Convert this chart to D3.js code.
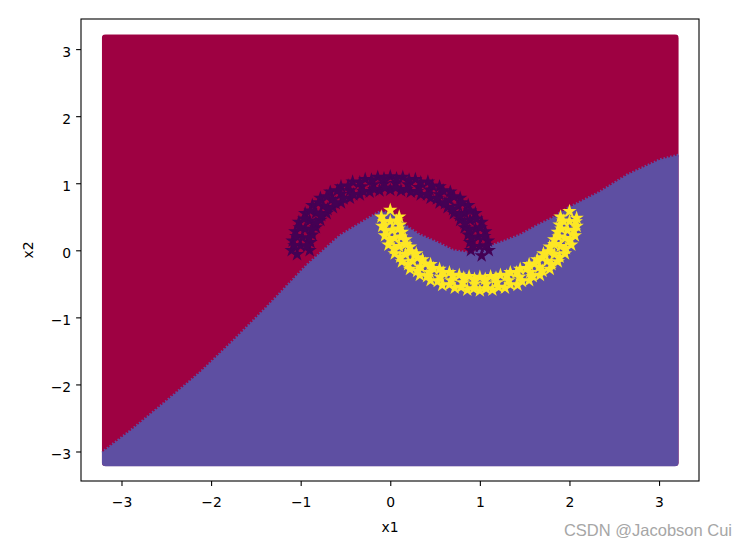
<!DOCTYPE html>
<html>
<head>
<meta charset="utf-8">
<script src="https://cdn.jsdelivr.net/npm/d3@7"></script>
<style>
  html, body { margin: 0; padding: 0; background: #fff; }
  svg { display: block; }
</style>
</head>
<body>
<svg id="chart" width="746" height="545"></svg>
<script>
// ---------------- data ----------------
const xTicks = [-3, -2, -1, 0, 1, 2, 3];
const yTicks = [-3, -2, -1, 0, 1, 2, 3];

// extent of the predicted grid (edge of the filled area)
const gridX = [-3.22, 3.22];
const gridY = [-3.22, 3.22];

// decision boundary (x1, x2): class 1 (purple) below, class 0 (red) above
const boundary = [
  [-3.22, -3.02], [-2.87, -2.66], [-2.49, -2.24], [-2.12, -1.82],
  [-1.76, -1.36], [-1.38, -0.85], [-0.93, -0.22], [-0.56, 0.22],
  [-0.19, 0.52], [-0.12, 0.57], [0.02, 0.56],
  [0.19, 0.35], [0.33, 0.23], [0.52, 0.12], [0.70, 0.00],
  [0.89, -0.04], [1.08, 0.05], [1.26, 0.13], [1.45, 0.23],
  [1.64, 0.37], [1.82, 0.49], [1.97, 0.62], [2.12, 0.72],
  [2.34, 0.87], [2.64, 1.12], [3.01, 1.35], [3.22, 1.42]
];

// moon of class 0 (dark purple stars)
const moon0 = [
  [0.90, 0.00], [1.10, 0.00], [1.02, -0.08], [0.89, 0.12], [1.09, 0.14],
  [0.87, 0.23], [1.06, 0.28], [0.83, 0.34], [1.02, 0.42], [0.78, 0.45],
  [0.95, 0.55], [0.71, 0.55], [0.87, 0.67], [0.64, 0.64], [0.78, 0.78],
  [0.55, 0.71], [0.67, 0.87], [0.45, 0.78], [0.55, 0.95], [0.34, 0.83],
  [0.42, 1.02], [0.23, 0.87], [0.28, 1.06], [0.12, 0.89], [0.14, 1.09],
  [0.00, 0.90], [0.00, 1.10], [-0.12, 0.89], [-0.14, 1.09], [-0.23, 0.87],
  [-0.28, 1.06], [-0.34, 0.83], [-0.42, 1.02], [-0.45, 0.78], [-0.55, 0.95],
  [-0.55, 0.71], [-0.67, 0.87], [-0.64, 0.64], [-0.78, 0.78], [-0.71, 0.55],
  [-0.87, 0.67], [-0.78, 0.45], [-0.95, 0.55], [-0.83, 0.34], [-1.02, 0.42],
  [-0.87, 0.23], [-1.06, 0.28], [-0.89, 0.12], [-1.09, 0.14], [-0.90, 0.00],
  [-1.10, 0.00], [-1.04, -0.06],
  [1.00, 0.06], [0.98, 0.20], [0.95, 0.32], [0.89, 0.45], [0.83, 0.55],
  [0.76, 0.66], [0.66, 0.75], [0.55, 0.83], [0.44, 0.90], [0.32, 0.94],
  [0.20, 0.98], [0.06, 1.00], [-0.07, 0.99], [-0.19, 0.98], [-0.32, 0.95],
  [-0.45, 0.89], [-0.55, 0.84], [-0.65, 0.76], [-0.75, 0.66], [-0.83, 0.56],
  [-0.90, 0.44], [-0.95, 0.32], [-0.98, 0.19], [-1.00, 0.07],
  [0.93, 0.06], [0.91, 0.18], [0.88, 0.30], [0.83, 0.41], [0.77, 0.52],
  [0.70, 0.61], [0.61, 0.70], [0.52, 0.77], [0.41, 0.83], [0.30, 0.88],
  [0.18, 0.91], [0.06, 0.93], [-0.06, 0.93], [-0.18, 0.91], [-0.30, 0.88],
  [-0.41, 0.83], [-0.52, 0.77], [-0.61, 0.70], [-0.70, 0.61], [-0.77, 0.52],
  [-0.83, 0.41], [-0.88, 0.30], [-0.91, 0.18], [-0.93, 0.06],
  [1.07, 0.07], [1.05, 0.21], [1.01, 0.34], [0.96, 0.47], [0.89, 0.59],
  [0.80, 0.71], [0.71, 0.80], [0.59, 0.89], [0.47, 0.96], [0.34, 1.01],
  [0.21, 1.05], [0.07, 1.07], [-0.07, 1.07], [-0.21, 1.05], [-0.34, 1.01],
  [-0.47, 0.96], [-0.59, 0.89], [-0.71, 0.80], [-0.80, 0.71], [-0.89, 0.59],
  [-0.96, 0.47], [-1.01, 0.34], [-1.05, 0.21], [-1.07, 0.07]
];

// moon of class 1 (yellow stars)
const moon1 = [
  [0.10, 0.50], [-0.10, 0.50], [0.00, 0.60], [0.11, 0.38], [-0.09, 0.36],
  [0.13, 0.27], [-0.06, 0.22], [0.17, 0.16], [-0.02, 0.08], [0.22, 0.05],
  [0.05, -0.05], [0.29, -0.05], [0.13, -0.17], [0.36, -0.14], [0.22, -0.28],
  [0.45, -0.21], [0.33, -0.37], [0.55, -0.28], [0.45, -0.45], [0.66, -0.33],
  [0.58, -0.52], [0.77, -0.37], [0.72, -0.56], [0.88, -0.39], [0.86, -0.59],
  [1.00, -0.40], [1.00, -0.60], [1.12, -0.39], [1.14, -0.59], [1.23, -0.37],
  [1.28, -0.56], [1.34, -0.33], [1.42, -0.52], [1.45, -0.28], [1.55, -0.45],
  [1.55, -0.21], [1.67, -0.37], [1.64, -0.14], [1.78, -0.28], [1.71, -0.05],
  [1.87, -0.17], [1.78, 0.05], [1.95, -0.05], [1.83, 0.16], [2.02, 0.08],
  [1.87, 0.27], [2.06, 0.22], [1.89, 0.38], [2.08, 0.36], [1.90, 0.50],
  [2.08, 0.48], [2.00, 0.58],
  [0.00, 0.43], [0.02, 0.30], [0.05, 0.18], [0.10, 0.06], [0.17, -0.06],
  [0.25, -0.16], [0.34, -0.25], [0.44, -0.33], [0.56, -0.40], [0.68, -0.45],
  [0.81, -0.48], [0.94, -0.50], [1.07, -0.50], [1.19, -0.48], [1.32, -0.45],
  [1.44, -0.40], [1.56, -0.33], [1.66, -0.25], [1.75, -0.16], [1.83, -0.06],
  [1.90, 0.06], [1.95, 0.18], [1.98, 0.30], [2.00, 0.43],
  [0.07, 0.44], [0.09, 0.32], [0.12, 0.20], [0.17, 0.09], [0.23, -0.02],
  [0.30, -0.11], [0.39, -0.20], [0.48, -0.27], [0.59, -0.33], [0.70, -0.38],
  [0.82, -0.41], [0.94, -0.43], [1.06, -0.43], [1.18, -0.41], [1.30, -0.38],
  [1.41, -0.33], [1.52, -0.27], [1.61, -0.20], [1.70, -0.11], [1.77, -0.02],
  [1.83, 0.09], [1.88, 0.20], [1.91, 0.32], [1.93, 0.44],
  [-0.07, 0.43], [-0.05, 0.29], [-0.01, 0.16], [0.04, 0.03], [0.11, -0.10],
  [0.20, -0.21], [0.30, -0.31], [0.41, -0.39], [0.53, -0.46], [0.66, -0.51],
  [0.79, -0.55], [0.93, -0.57], [1.07, -0.57], [1.21, -0.55], [1.34, -0.51],
  [1.47, -0.46], [1.59, -0.39], [1.70, -0.31], [1.80, -0.21], [1.89, -0.10],
  [1.96, 0.03], [2.01, 0.16], [2.05, 0.29], [2.07, 0.43]
];

const colors = {
  region0: "#9e0142",
  region1: "#5e4fa2",
  moon0: "#440154",
  moon1: "#fde725"
};

// ---------------- layout ----------------
const mLeft = 81, mRight = 699, mTop = 19, mBottom = 481;
const fs = 13.9;

const svg = d3.select("#chart");
const x = d3.scaleLinear().domain([-3.452, 3.446]).range([mLeft, mRight]);
const y = d3.scaleLinear().domain([-3.44, 3.449]).range([mBottom, mTop]);

// clip for the filled grid region (rounded because grid markers are round)
const defs = svg.append("defs");
defs.append("clipPath").attr("id", "gridClip")
  .append("rect")
  .attr("x", x(gridX[0])).attr("y", y(gridY[1]))
  .attr("width", x(gridX[1]) - x(gridX[0]))
  .attr("height", y(gridY[0]) - y(gridY[1]))
  .attr("rx", 4).attr("ry", 4);

const region = svg.append("g").attr("clip-path", "url(#gridClip)");
region.append("rect")
  .attr("x", x(gridX[0])).attr("y", y(gridY[1]))
  .attr("width", x(gridX[1]) - x(gridX[0]))
  .attr("height", y(gridY[0]) - y(gridY[1]))
  .attr("fill", colors.region0);

const area = d3.area()
  .x(d => x(d[0]))
  .y0(y(gridY[0]) + 2)
  .y1(d => y(d[1]));
region.append("path")
  .datum(boundary)
  .attr("d", area)
  .attr("fill", colors.region1);
// jagged edge left by the grid markers
region.append("path")
  .datum(boundary)
  .attr("d", d3.line().x(d => x(d[0])).y(d => y(d[1])))
  .attr("fill", "none")
  .attr("stroke", colors.region1)
  .attr("stroke-width", 3)
  .attr("stroke-dasharray", "1.6,1.8");

// stars
const star = d3.symbol().type(d3.symbolStar).size(64);
svg.append("g").selectAll("path").data(moon0).join("path")
  .attr("transform", d => `translate(${x(d[0])},${y(d[1])})`)
  .attr("d", star)
  .attr("fill", colors.moon0);
svg.append("g").selectAll("path").data(moon1).join("path")
  .attr("transform", d => `translate(${x(d[0])},${y(d[1])})`)
  .attr("d", star)
  .attr("fill", colors.moon1);

// axes
const font = "DejaVu Sans, sans-serif";
const fmt = d3.format("d");
const xAxis = svg.append("g").attr("transform", `translate(0,${mBottom})`)
  .call(d3.axisBottom(x).tickValues(xTicks).tickFormat(fmt).tickSize(4.9).tickPadding(4.9));
xAxis.select(".domain").remove();
xAxis.selectAll("line").attr("stroke", "#000").attr("stroke-width", 1.1);
xAxis.selectAll("text").attr("y", 26).attr("dy", null)
  .attr("font-family", font).attr("font-size", fs).attr("fill", "#000");

const yAxis = svg.append("g").attr("transform", `translate(${mLeft},0)`)
  .call(d3.axisLeft(y).tickValues(yTicks).tickFormat(fmt).tickSize(4.9).tickPadding(5));
yAxis.select(".domain").remove();
yAxis.selectAll("line").attr("stroke", "#000").attr("stroke-width", 1.1);
yAxis.selectAll("text").attr("dy", "0.5em")
  .attr("font-family", font).attr("font-size", fs).attr("fill", "#000");

// frame
svg.append("rect")
  .attr("x", mLeft).attr("y", mTop)
  .attr("width", mRight - mLeft).attr("height", mBottom - mTop)
  .attr("fill", "none").attr("stroke", "#000").attr("stroke-width", 1.1);

// axis labels
svg.append("text")
  .attr("x", (mLeft + mRight) / 2).attr("y", 532)
  .attr("text-anchor", "middle")
  .attr("font-family", font).attr("font-size", fs)
  .text("x1");
svg.append("text")
  .attr("transform", `translate(33,${(mTop + mBottom) / 2}) rotate(-90)`)
  .attr("text-anchor", "middle")
  .attr("font-family", font).attr("font-size", fs)
  .text("x2");

// watermark
svg.append("text")
  .attr("x", 732).attr("y", 536)
  .attr("text-anchor", "end")
  .attr("font-family", "Liberation Sans, Arial, sans-serif")
  .attr("font-size", 16.5)
  .attr("fill", "#a6a6a6")
  .text("CSDN @Jacobson Cui");
</script>
</body>
</html>
